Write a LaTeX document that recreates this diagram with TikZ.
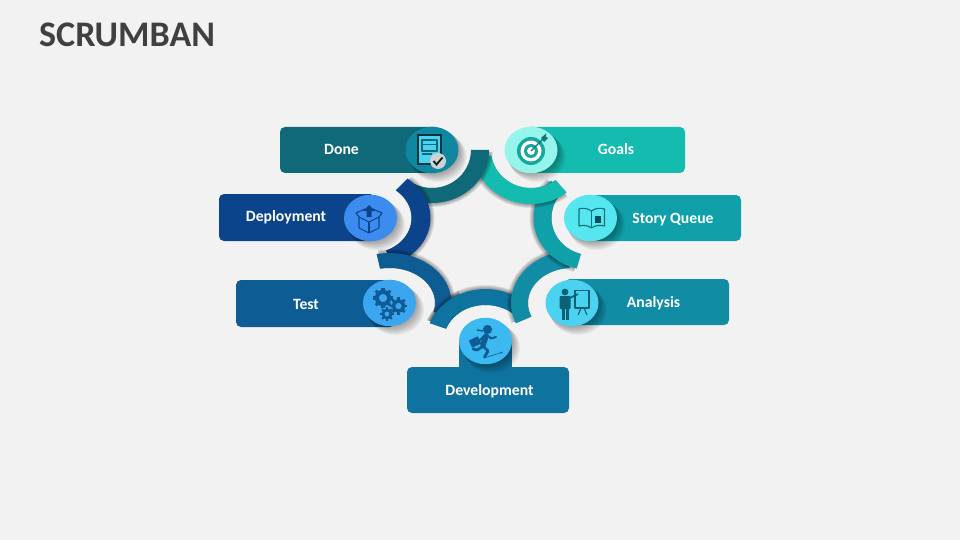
\documentclass[tikz,border=0pt]{standalone}
\usepackage{xcolor}
\usepackage{fontspec}
\setmainfont{Carlito}
\usetikzlibrary{shapes.geometric,arrows.meta}

\definecolor{pagegray}{RGB}{242,242,242}
\definecolor{titlegray}{RGB}{64,64,64}
\definecolor{doneC}{RGB}{15,105,120}
\definecolor{goalsC}{RGB}{20,187,175}
\definecolor{queueC}{RGB}{16,160,170}
\definecolor{analysisC}{RGB}{16,140,165}
\definecolor{devC}{RGB}{15,115,160}
\definecolor{testC}{RGB}{13,92,148}
\definecolor{deployC}{RGB}{12,68,140}
\definecolor{doneDotC}{RGB}{16,135,160}
\definecolor{goalsDotC}{RGB}{150,245,235}
\definecolor{queueDotC}{RGB}{85,230,240}
\definecolor{analysisDotC}{RGB}{75,210,240}
\definecolor{devDotC}{RGB}{60,185,240}
\definecolor{testDotC}{RGB}{60,165,240}
\definecolor{deployDotC}{RGB}{60,140,240}

\tikzset{
    bar/.style={rounded corners=5pt, fill=#1},
    dot/.style={ellipse, minimum width=53pt, minimum height=46.5pt, inner sep=0pt, fill=#1},
    label/.style={text=white, font=\fontsize{15.7}{18}\bfseries\selectfont},
    icon/.style={line width=1.1pt, draw=#1, line join=round},
}

% centre x, centre y, from, to, inner rx, inner ry, outer rx, outer ry, colour
\newcommand{\ringarc}[9]{
    \foreach \k in {1,...,4}
        \fill[black, opacity=0.09] plot[domain=#3+2:#4-2, samples=40] ({#1+(#7+\k)*cos(\x)}, {#2+(#8+\k)*sin(\x)})
            -- plot[domain=#4-2:#3+2, samples=40] ({#1+#5*cos(\x)}, {#2+#6*sin(\x)}) -- cycle;
    \fill[#9] plot[domain=#3:#4, samples=40] ({#1+#7*cos(\x)}, {#2+#8*sin(\x)})
        -- plot[domain=#4:#3, samples=40] ({#1+#5*cos(\x)}, {#2+#6*sin(\x)}) -- cycle;
}
\newcommand{\softshadow}[2]{
    \foreach \k in {1,...,9}
        \fill[black, opacity=0.04] ({#1+0.7*\k},{#2+0.8*\k}) ellipse [x radius={26.5+0.2*\k}, y radius={23+0.2*\k}];
}
% centre x, centre y, radius, colour
\newcommand{\gearicon}[4]{
    \foreach \a in {0,45,...,315}
        \draw[#4, line width=#3*0.34pt] (#1,#2) ++(\a:#3*0.7) -- ++(\a:#3*0.45);
    \draw[#4, line width=#3*0.46pt] (#1,#2) circle (#3*0.68);
}

\begin{document}
\begin{tikzpicture}[x=1pt, y=-1pt]
    \useasboundingbox (0,0) rectangle (960,540);
    \fill[pagegray] (0,0) rectangle (960,540);

    % Title
    \node[anchor=west, inner sep=0pt, text=titlegray, font=\fontsize{36}{40}\bfseries\selectfont] (title) at (39,34.5) {SCRUMBAN};

    % Bars
    \fill[bar=doneC] (280,127) rectangle (440,173);
    \fill[bar=goalsC] (525,127) rectangle (685,173);
    \fill[bar=queueC] (585,195) rectangle (741,241);
    \fill[bar=analysisC] (565,279) rectangle (729,325);
    \fill[bar=devC] (407,367) rectangle (569,413);
    \fill[devC] (459,341) rectangle (512,370);
    \fill[bar=testC] (236,280) rectangle (395,327);
    \fill[bar=deployC] (219,194) rectangle (375,241);

    % Ring
    \ringarc{485.5}{341}{200}{315}{42}{36}{59}{52}{devC}
    \ringarc{572}{303}{157}{267}{44}{35}{61}{52}{analysisC}
    \ringarc{590.5}{218}{104}{226}{39}{37}{57}{52}{queueC}
    \ringarc{531}{150}{52}{172}{40}{38}{58}{54}{goalsC}
    \ringarc{432}{150}{0}{118}{39}{38}{57}{53}{doneC}
    \ringarc{370.5}{218}{-52}{68}{41}{35}{60}{50}{deployC}
    \ringarc{389.5}{303}{-102}{15}{45.5}{35}{62}{50}{testC}
    \begin{scope}
        \clip (420,280) rectangle (459,335);
        \ringarc{485.5}{341}{200}{315}{42}{36}{59}{52}{devC}
    \end{scope}

    % Discs
    \softshadow{432}{150}
    \node[dot=doneDotC] (doneDot) at (432,150) {};
    \softshadow{531}{150}
    \node[dot=goalsDotC] (goalsDot) at (531,150) {};
    \softshadow{590.5}{218}
    \node[dot=queueDotC] (queueDot) at (590.5,218) {};
    \softshadow{572}{303}
    \node[dot=analysisDotC] (analysisDot) at (572,303) {};
    \softshadow{485.5}{341}
    \node[dot=devDotC] (devDot) at (485.5,341) {};
    \softshadow{389.5}{303}
    \node[dot=testDotC] (testDot) at (389.5,303) {};
    \softshadow{370.5}{218}
    \node[dot=deployDotC] (deployDot) at (370.5,218) {};

    % Labels
    \node[label] (doneText) at (341.5,149) {Done};
    \node[label] (goalsText) at (616,149) {Goals};
    \node[label] (queueText) at (673,219.5) {Story Queue};
    \node[label] (analysisText) at (653.5,303.5) {Analysis};
    \node[label] (devText) at (489.5,391.5) {Development};
    \node[label] (testText) at (306,304.5) {Test};
    \node[label] (deployText) at (286,217.5) {Deployment};

    % Done icon
    \fill[black!50!doneC] (417,134) rectangle (442,165);
    \fill[analysisDotC] (419,136) rectangle (440,163);
    \draw[icon=doneC] (422,140) rectangle (437,151);
    \draw[icon=doneC, line width=0.7pt] (422,144) -- (437,144);
    \draw[doneC, line width=1.5pt] (422,154) -- (432,154);
    \fill[black!18] (438,161) circle (8);
    \draw[black!70!doneC, line width=1.8pt] (433.5,161) -- (436.5,164.5) -- (442.5,157.5);

    % Goals icon
    \fill[goalsC!90!black] (531,151) circle (14);
    \fill[white] (531,151) circle (10.5);
    \fill[goalsC!90!black] (531,151) circle (7);
    \fill[white] (531,151) circle (4);
    \draw[black!35!goalsC, line width=1.3pt] (531,151) -- (543,139);
    \fill[black!35!goalsC] (541,138) -- (546,133.5) -- (546,137) -- (548,138) -- (544,142) -- cycle;

    % Queue icon
    \draw[icon=queueC!70!black] (591.5,211) .. controls (586,207.5) and (582,208) .. (579,209) -- (579,226) .. controls (583,225) and (587,225) .. (591.5,228) .. controls (596,225) and (600,225) .. (604.5,226) -- (604.5,209) .. controls (601,208) and (596,207.5) .. (591.5,211) -- cycle;
    \draw[icon=queueC!70!black] (591.5,211) -- (591.5,228);
    \fill[queueC!50!black] (595,216) rectangle (601,223);

    % Analysis icon
    \fill[analysisC!70!black] (565,292) circle (3.4);
    \fill[analysisC!70!black, rounded corners=1pt] (559.5,296) rectangle (570.5,309);
    \fill[analysisC!70!black] (561.5,305) rectangle (568.5,320);
    \draw[analysisDotC, line width=0.5pt] (565,309) -- (565,320);
    \draw[analysisC!70!black, line width=1.6pt] (570,298) -- (578,294);
    \draw[icon=analysisC!70!black] (575,290.5) rectangle (589,308);
    \draw[icon=analysisC!70!black] (581,308) -- (578,315) (584,308) -- (587,315);

    % Development icon
    \fill[testC] (487.5,329.5) circle (4.6);
    \draw[testC, line width=5.5pt, line cap=round] (486,336) -- (483,345);
    \draw[testC, line width=2.8pt, line cap=round, line join=round] (483,346) -- (488,351) -- (484.5,357);
    \draw[testC, line width=2.8pt, line cap=round, line join=round] (482,347) -- (477,350) -- (473,349);
    \draw[testC, line width=2pt, line cap=round, line join=round] (487,335) -- (491,338.5) -- (496,337);
    \draw[testC, line width=2pt, line cap=round] (484,336) -- (478,342);
    \fill[testC, rotate around={25:(475,342)}] (470,338) rectangle (480,346);
    \draw[testC, line width=1.5pt] (483,331) -- (477,330);
    \draw[testC, line width=0.6pt, -{Stealth[length=3pt]}] (484,358) -- (503,352);

    % Test icon
    \gearicon{383}{298}{9}{testC}
    \gearicon{398.5}{306}{7.6}{testC}
    \gearicon{387}{314}{6}{testC}

    % Deployment icon
    \draw[icon=deployC, fill=deployDotC] (359,217) -- (369,222) -- (379,217) -- (379,228) -- (369,233) -- (359,228) -- cycle;
    \draw[icon=deployC] (369,222) -- (369,233);
    \draw[icon=deployC] (359,217) -- (356,213) -- (365,209) -- (369,212) -- (373,209) -- (382,213) -- (379,217);
    \fill[deployC] (369,205) -- (375,211) -- (371.5,211) -- (371.5,217) -- (366.5,217) -- (366.5,211) -- (363,211) -- cycle;
\end{tikzpicture}
\end{document}
